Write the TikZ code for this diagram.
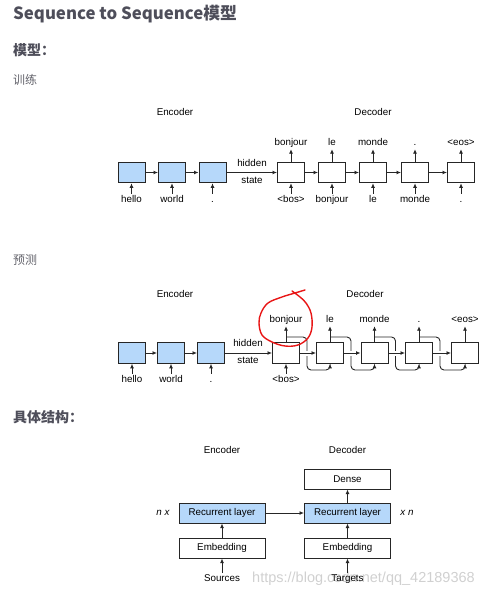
\documentclass[tikz,border=0pt]{standalone}
\usepackage{fontspec}
\setmainfont{Liberation Sans}
\newfontfamily\cjk{Noto Sans CJK SC}
\usetikzlibrary{arrows.meta, positioning, calc}

\definecolor{rnnblue}{RGB}{182,216,250}
\definecolor{headgray}{RGB}{78,78,90}
\definecolor{notegray}{RGB}{100,100,108}
\definecolor{penred}{RGB}{232,22,22}
\definecolor{wmgray}{RGB}{208,208,208}

\newcommand{\dgfont}{\fontsize{9.8}{11.5}\selectfont}

\tikzset{
  encbox/.style={draw=black!85, line width=1pt, fill=rnnblue, minimum width=27pt, minimum height=20.5pt, inner sep=0pt},
  decbox/.style={encbox, fill=white},
  layerbox/.style={draw=black!85, line width=1pt, fill=white, minimum width=86pt, minimum height=20pt, inner sep=0pt, font=\dgfont},
  word/.style={inner sep=1.5pt, font=\dgfont, text height=7pt, text depth=2pt},
  flow/.style={-{Latex[length=4.5pt,width=4pt]}, line width=0.9pt, draw=black!85},
  gapflow/.style={flow, preaction={draw=white, line width=5pt, -, shorten <=2pt, shorten >=2pt}},
  feedback/.style={flow, rounded corners=4pt},
  heading/.style={anchor=west, inner sep=0pt, text=headgray, font=\cjk\bfseries\fontsize{14}{16}\selectfont},
  note/.style={anchor=west, inner sep=0pt, text=notegray, font=\cjk\fontsize{12}{14}\selectfont}
}

\begin{document}
\begin{tikzpicture}[x=1pt, y=-1pt]

    \useasboundingbox (0,0) rectangle (503,607);

    % ==================== PAGE HEADINGS ====================
    \node[heading, font=\cjk\bfseries\fontsize{16.8}{19}\selectfont] (title) at (13,14) {Sequence to Sequence模型};
    \node[heading] (model) at (13,50) {模型：};
    \node[note] (train) at (13,80) {训练};
    \node[note] (predict) at (13,260) {预测};
    \node[heading] (struct) at (13,417) {具体结构：};


    % ==================== TRAINING: CELLS ====================
    \node[word] (encT) at (175,113) {Encoder};
    \node[word] (decT) at (373,113) {Decoder};

    % Encoder cells (blue)
    \node[encbox] (te1) at (131.5,172.5) {};
    \node[encbox] (te2) at (172,172.5) {};
    \node[encbox] (te3) at (212.5,172.5) {};

    % Decoder cells
    \node[decbox] (td1) at (291,172.5) {};
    \node[decbox] (td2) at (332,172.5) {};
    \node[decbox] (td3) at (373,172.5) {};
    \node[decbox] (td4) at (415,172.5) {};
    \node[decbox] (td5) at (461,172.5) {};

    % Input tokens
    \node[word] (ti1) at (131.5,200) {hello};
    \node[word] (ti2) at (172,200) {world};
    \node[word] (ti3) at (212.5,200) {.};
    \node[word] (ti4) at (291,200) {<bos>};
    \node[word] (ti5) at (332,200) {bonjour};
    \node[word] (ti6) at (373,200) {le};
    \node[word] (ti7) at (415,200) {monde};
    \node[word] (ti8) at (461,200) {.};

    % Output tokens
    \node[word] (to1) at (291,143) {bonjour};
    \node[word] (to2) at (332,143) {le};
    \node[word] (to3) at (373,143) {monde};
    \node[word] (to4) at (415,143) {.};
    \node[word] (to5) at (461,143) {<eos>};

    % Hidden state text
    \node[word] (hidT) at (252,164) {hidden};
    \node[word] (staT) at (252,181) {state};

    % ==================== TRAINING: CONNECTIONS ====================
    \draw[flow] (ti1) -- (te1);
    \draw[flow] (ti2) -- (te2);
    \draw[flow] (ti3) -- (te3);
    \draw[flow] (ti4) -- (td1);
    \draw[flow] (ti5) -- (td2);
    \draw[flow] (ti6) -- (td3);
    \draw[flow] (ti7) -- (td4);
    \draw[flow] (ti8) -- (td5);

    \draw[flow] (td1) -- (to1);
    \draw[flow] (td2) -- (to2);
    \draw[flow] (td3) -- (to3);
    \draw[flow] (td4) -- (to4);
    \draw[flow] (td5) -- (to5);

    \draw[flow] (te1) -- (te2);
    \draw[flow] (te2) -- (te3);
    \draw[flow] (te3) -- (td1);
    \draw[flow] (td1) -- (td2);
    \draw[flow] (td2) -- (td3);
    \draw[flow] (td3) -- (td4);
    \draw[flow] (td4) -- (td5);


    % ==================== PREDICTION: CELLS ====================
    \node[word] (encP) at (175,295) {Encoder};
    \node[word] (decP) at (365,295) {Decoder};

    % Encoder cells (blue)
    \node[encbox] (pe1) at (132,353) {};
    \node[encbox] (pe2) at (171,353) {};
    \node[encbox] (pe3) at (211,353) {};

    % Decoder cells
    \node[decbox] (pd1) at (286,353) {};
    \node[decbox] (pd2) at (330,353) {};
    \node[decbox] (pd3) at (374.5,353) {};
    \node[decbox] (pd4) at (419,353) {};
    \node[decbox] (pd5) at (465,353) {};

    % Input tokens
    \node[word] (pi1) at (132,380) {hello};
    \node[word] (pi2) at (171,380) {world};
    \node[word] (pi3) at (211,380) {.};
    \node[word] (pi4) at (286,380) {<bos>};

    % Output tokens
    \node[word] (po1) at (286,320) {bonjour};
    \node[word] (po2) at (330,320) {le};
    \node[word] (po3) at (374.5,320) {monde};
    \node[word] (po4) at (419,320) {.};
    \node[word] (po5) at (465,320) {<eos>};

    % Hidden state text
    \node[word] (hidP) at (248,344) {hidden};
    \node[word] (staP) at (248,361) {state};

    % Feedback loop corners
    \coordinate (fa1) at (286,337);
    \coordinate (fa2) at (330,337);
    \coordinate (fa3) at (374.5,337);
    \coordinate (fa4) at (419,337);
    \coordinate (fb1) at (307,370);
    \coordinate (fb2) at (351,370);
    \coordinate (fb3) at (395.5,370);
    \coordinate (fb4) at (440,370);

    % ==================== PREDICTION: CONNECTIONS ====================
    \draw[flow] (pi1) -- (pe1);
    \draw[flow] (pi2) -- (pe2);
    \draw[flow] (pi3) -- (pe3);
    \draw[flow] (pi4) -- (pd1);

    \draw[flow] (pd1) -- (po1);
    \draw[flow] (pd2) -- (po2);
    \draw[flow] (pd3) -- (po3);
    \draw[flow] (pd4) -- (po4);
    \draw[flow] (pd5) -- (po5);

    % Each prediction is fed back as the next input
    \draw[feedback] (fa1) -| (fb1) -| (pd2.south);
    \draw[feedback] (fa2) -| (fb2) -| (pd3.south);
    \draw[feedback] (fa3) -| (fb3) -| (pd4.south);
    \draw[feedback] (fa4) -| (fb4) -| (pd5.south);

    \draw[flow] (pe1) -- (pe2);
    \draw[flow] (pe2) -- (pe3);
    \draw[flow] (pe3) -- (pd1);
    \draw[gapflow] (pd1) -- (pd2);
    \draw[gapflow] (pd2) -- (pd3);
    \draw[gapflow] (pd3) -- (pd4);
    \draw[gapflow] (pd4) -- (pd5);

    % Hand-drawn red mark round the first prediction
    \draw[penred, line width=1.4pt, line cap=round, line join=round]
        plot[smooth, tension=0.6] coordinates {(305,290) (295,293) (282,297) (268,303) (261,313) (259,323) (262,335) (272,342) (285,346) (298,345) (308,338) (312,327) (311,313) (306,303) (300,297) (292,291)};


    % ==================== STRUCTURE ====================
    % Watermark first, so that "Targets" stays on top of it
    \node[anchor=west, inner sep=0pt, text=wmgray, font=\fontsize{14.5}{16}\selectfont] (wm) at (252,579) {https://blog.csdn.net/qq\_42189368};

    \node[word] (encS) at (222,451) {Encoder};
    \node[word] (decS) at (347.5,451) {Decoder};

    \node[layerbox, fill=rnnblue] (rnnE) at (222,513) {Recurrent layer};
    \node[layerbox] (embE) at (222,548) {Embedding};
    \node[layerbox] (dense) at (347.5,479) {Dense};
    \node[layerbox, fill=rnnblue] (rnnD) at (347.5,513) {Recurrent layer};
    \node[layerbox] (embD) at (347.5,548) {Embedding};

    \node[word] (src) at (222,579) {Sources};
    \node[word] (tgt) at (347.5,579) {Targets};

    \node[word, font=\dgfont\itshape] (nx) at (163,513) {n x};
    \node[word, font=\dgfont\itshape] (xn) at (407,513) {x n};

    \draw[flow] (src) -- (embE);
    \draw[flow] (embE) -- (rnnE);
    \draw[flow] (tgt) -- (embD);
    \draw[flow] (embD) -- (rnnD);
    \draw[flow] (rnnE) -- (rnnD);
    \draw[flow] (rnnD) -- (dense);

\end{tikzpicture}
\end{document}
